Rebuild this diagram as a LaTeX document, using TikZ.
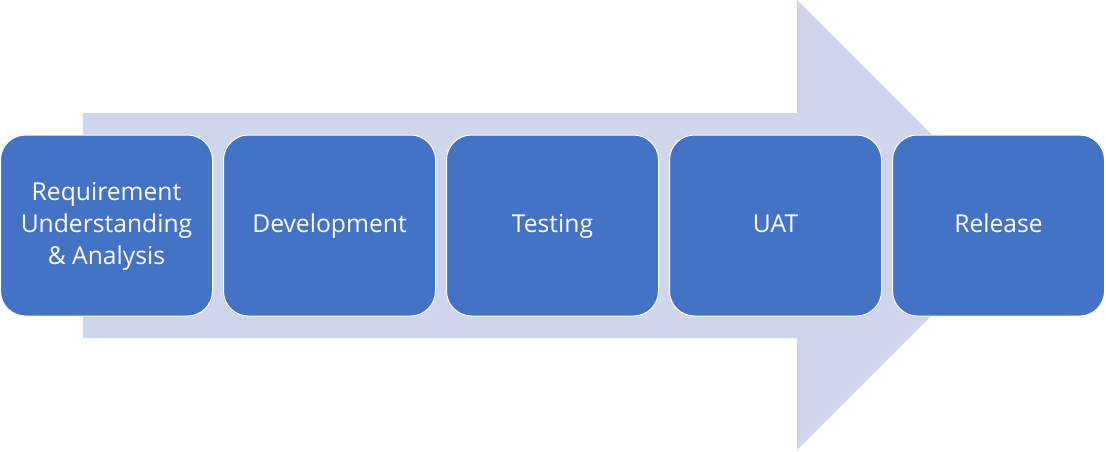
\documentclass[tikz,border=0pt]{standalone}
\usepackage{fontspec}
\setmainfont{Open Sans}
\definecolor{boxblue}{HTML}{4472C4}
\definecolor{arrowlav}{HTML}{CFD5EA}

\begin{document}
\begin{tikzpicture}[
x=0.75pt,y=-0.75pt,
block/.style={
draw=white,
line width=0.75pt,
fill=boxblue,
rectangle,
rounded corners=18.75pt,
minimum width=159pt,
minimum height=135.75pt,
align=center,
text=white,
font=\fontsize{18.5}{24}\selectfont},
oneline/.style={
text height=12.75pt,
text depth=2.25pt}
]
\useasboundingbox (0,0) rectangle (1106,451);

% big arrow behind the boxes
\fill[arrowlav] (83,113) -- (797,113) -- (797,0) -- (1022,225) -- (797,450) -- (797,338) -- (83,338) -- cycle;

\node[block] (req) at (106.5,225.5) {\rule{0pt}{15.6pt}Requirement\\Understanding\\\& Analysis};
\node[block,oneline] (dev) at (329.5,225.5) {Development};
\node[block,oneline] (test) at (552.5,225.5) {Testing};
\node[block,oneline] (uat) at (775.5,225.5) {UAT};
\node[block,oneline] (rel) at (998.5,225.5) {Release};

\end{tikzpicture}
\end{document}
